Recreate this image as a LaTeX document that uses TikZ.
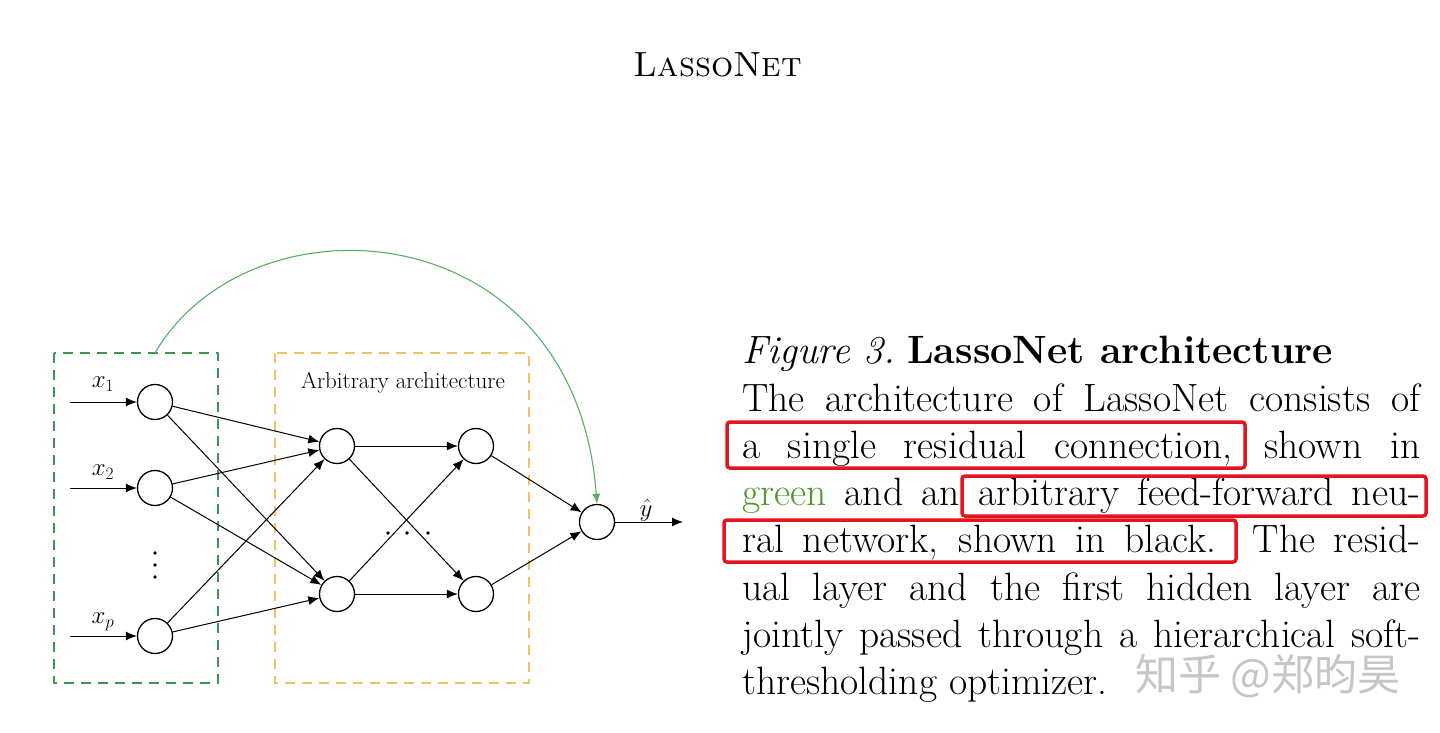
\documentclass[tikz,border=0pt]{standalone}
\usepackage{fontspec}
\newfontfamily\cjk{Noto Sans CJK SC}
\usetikzlibrary{arrows.meta}
\definecolor{dgreen}{RGB}{60,150,80}
\definecolor{lgreen}{RGB}{90,175,100}
\definecolor{orng}{RGB}{240,195,100}
\definecolor{tgreen}{RGB}{80,150,40}
\definecolor{wred}{RGB}{230,20,30}
\begin{document}
\begin{tikzpicture}[x=1pt,y=-1pt,
  neuron/.style={circle,draw,line width=1.3pt,minimum size=35pt,inner sep=0pt},
  conn/.style={-{Latex[length=11pt,width=9pt]},line width=1pt},
  line/.style={anchor=base west,inner sep=0pt,font=\fontsize{39.5}{44}\selectfont},
  hl/.style={draw=wred,line width=3.5pt,rounded corners=3pt},
  dot/.style={circle,fill=black,inner sep=0pt,minimum size=3.6pt}]
\useasboundingbox (0,0) rectangle (1440,733);
\fill[white] (0,0) rectangle (1440,733);
\node[font=\fontsize{35}{40}\selectfont\scshape] (title) at (718,65) {LassoNet};
% boxes
\draw[dgreen,line width=2.2pt,dash pattern=on 10pt off 7pt] (54,353) rectangle (218,683);
\draw[orng,line width=2.2pt,dash pattern=on 10pt off 7pt] (275,353) rectangle (529,683);
\node[font=\fontsize{23}{26}\selectfont] (arb) at (403,383) {Arbitrary architecture};
% neurons
\node[neuron] (i1) at (155,402) {};
\node[neuron] (i2) at (155,488) {};
\node[neuron] (ip) at (155,636) {};
\node[neuron] (a1) at (337,446) {};
\node[neuron] (a2) at (337,594) {};
\node[neuron] (b1) at (476,446) {};
\node[neuron] (b2) at (476,594) {};
\node[neuron] (o) at (597,522) {};
\coordinate (s1) at (70,402);
\coordinate (s2) at (70,488);
\coordinate (sp) at (70,636);
\coordinate (e) at (683,522);
\draw[conn] (s1) -- (i1);
\draw[conn] (s2) -- (i2);
\draw[conn] (sp) -- (ip);
\node[font=\fontsize{25}{28}\selectfont] (l1) at (103,384) {$x_1$};
\node[font=\fontsize{25}{28}\selectfont] (l2) at (103,472) {$x_2$};
\node[font=\fontsize{25}{28}\selectfont] (lp) at (103,622) {$x_p$};
\foreach \y [count=\k] in {553,565,577}{\node[dot] (vd\k) at (155,\y) {};}
\foreach \x [count=\k] in {388,407,428}{\node[dot] (hd\k) at (\x,533) {};}
\foreach \s in {i1,i2,ip}{\foreach \t in {a1,a2}{\draw[conn] (\s) -- (\t);}}
\foreach \s in {a1,a2}{\foreach \t in {b1,b2}{\draw[conn] (\s) -- (\t);}}
\draw[conn] (b1) -- (o);
\draw[conn] (b2) -- (o);
\draw[conn] (o) -- (e);
\node[font=\fontsize{25}{28}\selectfont] (yh) at (646,510) {$\hat{y}$};
\coordinate (gs) at (155,353);
\draw[lgreen,line width=1.1pt,-{Latex[length=10pt,width=8pt]}] (gs) .. controls (250,190) and (575,210) .. (o.north);
% caption
\node[line] (c0) at (742,363) {\itshape Figure 3.\upshape\ \bfseries LassoNet architecture};
\node[line] (c1) at (742,411) {\hbox to 678pt{The architecture of LassoNet consists of}};
\node[line] (c2) at (742,458) {\hbox to 678pt{a single residual connection, shown in}};
\node[line] (c3) at (742,505) {\hbox to 678pt{\textcolor{tgreen}{green} and an arbitrary feed-forward neu-}};
\node[line] (c4) at (742,552) {\hbox to 678pt{ral network, shown in black. The resid-}};
\node[line] (c5) at (742,600) {\hbox to 678pt{ual layer and the first hidden layer are}};
\node[line] (c6) at (742,647) {\hbox to 678pt{jointly passed through a hierarchical soft-}};
\node[line] (c7) at (742,694) {thresholding optimizer.};
\node[anchor=base west,inner sep=0pt,font=\fontsize{43}{46}\cjk,text=gray!45] (wm) at (1135,690) {知乎 @郑昀昊};
\draw[hl] (727,422) rectangle (1245,468);
\draw[hl] (962,476) rectangle (1426,516);
\draw[hl] (724,520) rectangle (1236,562);
\end{tikzpicture}
\end{document}
